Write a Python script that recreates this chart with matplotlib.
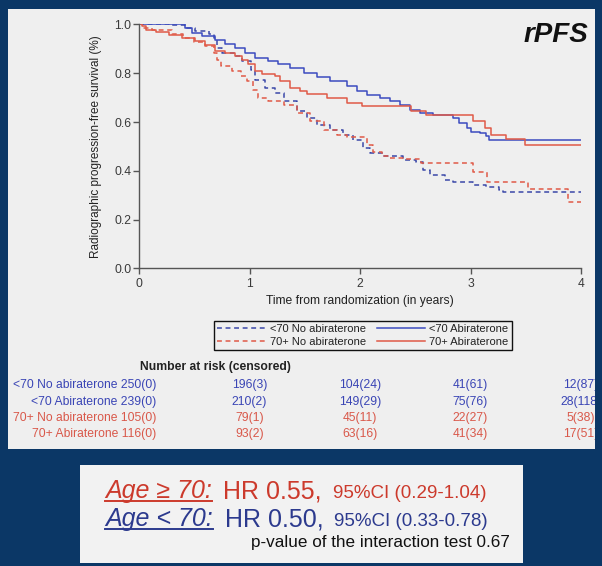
import matplotlib
matplotlib.use("Agg")
import matplotlib.pyplot as plt
from matplotlib.patches import Rectangle
from matplotlib.lines import Line2D
import matplotlib.transforms as mtransforms

plt.rcParams['font.family'] = ['Liberation Sans', 'DejaVu Sans']

# ---------------- data ----------------
series_labels = ["<70 No abiraterone", "70+ No abiraterone", "<70 Abiraterone", "70+ Abiraterone"]

t_u70_abi = [0, 0.42, 0.48, 0.57, 0.69, 0.78, 0.87, 0.96, 1.05, 1.17, 1.26, 1.37, 1.49, 1.61, 1.73,
             1.88, 1.97, 2.06, 2.18, 2.27, 2.36, 2.45, 2.54, 2.66, 2.84, 2.90, 2.97, 3.00, 3.09, 3.14,
             3.17, 4.0]
s_u70_abi = [1.0, 0.986, 0.966, 0.952, 0.938, 0.922, 0.904, 0.884, 0.863, 0.849, 0.836, 0.822, 0.80,
             0.785, 0.77, 0.747, 0.729, 0.712, 0.699, 0.685, 0.668, 0.651, 0.637, 0.627, 0.617, 0.596,
             0.575, 0.561, 0.556, 0.542, 0.525, 0.525]

t_70p_abi = [0, 0.03, 0.06, 0.15, 0.27, 0.39, 0.51, 0.60, 0.69, 0.78, 0.87, 0.93, 0.99, 1.05, 1.11,
             1.23, 1.28, 1.37, 1.46, 1.52, 1.70, 1.88, 2.02, 2.46, 2.60, 3.02, 3.13, 3.19, 3.32, 3.49,
             4.0]
s_70p_abi = [1.0, 0.993, 0.979, 0.968, 0.955, 0.945, 0.931, 0.914, 0.89, 0.884, 0.87, 0.856, 0.836,
             0.808, 0.798, 0.788, 0.767, 0.74, 0.726, 0.715, 0.699, 0.678, 0.664, 0.644, 0.630, 0.603,
             0.575, 0.545, 0.53, 0.507, 0.507]

t_u70_no = [0, 0.27, 0.42, 0.51, 0.63, 0.68, 0.71, 0.75, 0.87, 0.93, 1.01, 1.05, 1.14, 1.23, 1.31,
            1.43, 1.52, 1.61, 1.73, 1.85, 1.94, 2.03, 2.09, 2.21, 2.39, 2.51, 2.57, 2.63, 2.77, 2.84,
            3.02, 3.14, 3.26, 3.29, 4.0]
s_u70_no = [1.0, 0.996, 0.986, 0.973, 0.959, 0.945, 0.904, 0.884, 0.87, 0.849, 0.815, 0.774, 0.74,
            0.719, 0.685, 0.644, 0.617, 0.589, 0.568, 0.548, 0.527, 0.493, 0.473, 0.459, 0.445, 0.438,
            0.404, 0.383, 0.363, 0.353, 0.342, 0.335, 0.322, 0.312, 0.312]

t_70p_no = [0, 0.04, 0.12, 0.30, 0.40, 0.50, 0.60, 0.68, 0.71, 0.74, 0.84, 0.92, 0.98, 1.03, 1.08,
            1.17, 1.31, 1.43, 1.55, 1.67, 1.79, 1.88, 2.06, 2.12, 2.20, 2.27, 2.39, 2.55, 3.02, 3.15,
            3.52, 3.88, 4.0]
s_70p_no = [1.0, 0.986, 0.976, 0.962, 0.945, 0.93, 0.911, 0.884, 0.856, 0.829, 0.808, 0.788, 0.767,
            0.733, 0.699, 0.685, 0.671, 0.637, 0.603, 0.568, 0.548, 0.54, 0.507, 0.479, 0.459, 0.452,
            0.448, 0.431, 0.394, 0.352, 0.325, 0.271, 0.271]

x_ticks = [0, 1, 2, 3, 4]
y_ticks = [0.0, 0.2, 0.4, 0.6, 0.8, 1.0]

risk_rows = ["<70 No abiraterone 250(0)", "<70 Abiraterone 239(0)",
             "70+ No abiraterone 105(0)", "70+ Abiraterone 116(0)"]
risk_times = [1, 2, 3, 4]
risk_u70_no = ["196(3)", "104(24)", "41(61)", "12(87)"]
risk_u70_abi = ["210(2)", "149(29)", "75(76)", "28(118)"]
risk_70p_no = ["79(1)", "45(11)", "22(27)", "5(38)"]
risk_70p_abi = ["93(2)", "63(16)", "41(34)", "17(51)"]

hr_line1 = ["Age \u2265 70:", "HR 0.55,", "95%CI (0.29-1.04)"]
hr_line2 = ["Age < 70:", "HR 0.50,", "95%CI (0.33-0.78)"]
p_text = "p-value of the interaction test 0.67"

# ---------------- style ----------------
W, H = 602, 566
BG = '#0b3766'
PANEL = '#efefef'
BLUE = '#3b4bc0'
BLUE_D = '#3a47a8'
RED = '#e05a47'
TBLUE = '#3a45b5'
TRED = '#d9584a'
HRED = '#cc3a2c'
HBLUE = '#2c3a8e'

def fx(x):
    return x / W

def fy(y):
    return 1 - y / H

fig = plt.figure(figsize=(W / 100, H / 100), dpi=100)
fig.patch.set_facecolor(BG)

# main panel
fig.add_artist(Rectangle((fx(8), fy(449)), (595 - 8) / W, (449 - 9) / H,
                         transform=fig.transFigure, facecolor=PANEL, edgecolor='none', zorder=0))
# bottom box
fig.add_artist(Rectangle((fx(80), fy(563)), (523 - 80) / W, (563 - 465) / H,
                         transform=fig.transFigure, facecolor='#f2f2f2', edgecolor='none', zorder=0))

ax = fig.add_axes([fx(139), fy(268.3), 442 / W, (268.3 - 24.5) / H])
ax.patch.set_visible(False)

dash = (0, (3.2, 2.4))
l1, = ax.plot(t_u70_no, s_u70_no, drawstyle='steps-post', color=BLUE_D, lw=1.1, linestyle=dash)
l2, = ax.plot(t_70p_no, s_70p_no, drawstyle='steps-post', color=RED, lw=1.1, linestyle=dash)
l3, = ax.plot(t_u70_abi, s_u70_abi, drawstyle='steps-post', color=BLUE, lw=1.1)
l4, = ax.plot(t_70p_abi, s_70p_abi, drawstyle='steps-post', color=RED, lw=1.1)

ax.set_xlim(0, 4)
ax.set_ylim(0, 1)
ax.set_xticks(x_ticks)
ax.set_xticklabels([str(v) for v in x_ticks])
ax.set_yticks(y_ticks)
ax.set_yticklabels([f"{v:.1f}" for v in y_ticks])
for s in ['top', 'right']:
    ax.spines[s].set_visible(False)
for s in ['left', 'bottom']:
    ax.spines[s].set_color('#555555')
    ax.spines[s].set_linewidth(1.0)
ax.tick_params(axis='both', direction='out', length=4, width=1, color='#555555',
               labelsize=8.7, labelcolor='#3a3a3a')
ax.tick_params(axis='x', pad=3)
ax.tick_params(axis='y', pad=1.5)
ax.set_ylabel("Radiographic progression-free survival (%)", fontsize=8.5, color='#222222')
ax.yaxis.set_label_coords(-0.083, 0.5)
ax.set_xlabel("Time from randomization (in years)", fontsize=8.7, color='#222222')
ax.xaxis.set_label_coords(0.5, -0.11)

fig.text(fx(556), fy(35), "rPFS", fontsize=20, fontweight='bold', fontstyle='italic',
         color='#111111', ha='center', va='center')

# legend
leg = fig.legend([l1, l2, l3, l4], series_labels, ncol=2, loc='upper left',
                 bbox_to_anchor=(fx(214), fy(321)), bbox_transform=fig.transFigure,
                 fontsize=8, frameon=True, fancybox=False, edgecolor='#111111',
                 facecolor=PANEL, framealpha=1, handlelength=4.3, handletextpad=0.4,
                 columnspacing=1.0, labelspacing=0.25, borderpad=0.3, borderaxespad=0)
leg.get_frame().set_linewidth(1.0)
for txt in leg.get_texts():
    txt.set_color('#222222')

# number at risk table
fig.text(fx(215), fy(367), "Number at risk (censored)", fontsize=8.7, fontweight='bold',
         color='#222222', ha='center', va='center')
row_y = [385, 401.7, 418.3, 434.3]
row_colors = [TBLUE, TBLUE, TRED, TRED]
row_vals = [risk_u70_no, risk_u70_abi, risk_70p_no, risk_70p_abi]
blend = mtransforms.blended_transform_factory(ax.transData, fig.transFigure)
for lab, yy, col, vals in zip(risk_rows, row_y, row_colors, row_vals):
    fig.text(fx(156), fy(yy), lab, fontsize=8.7, color=col, ha='right', va='center')
    for t, v in zip(risk_times, vals):
        fig.text(t, fy(yy), v, fontsize=8.7, color=col, ha='center', va='center',
                 transform=blend)

# cover clipped portion at panel right edge
fig.add_artist(Rectangle((fx(595), fy(460)), (W - 595) / W, 460 / H,
                         transform=fig.transFigure, facecolor=BG, edgecolor='none', zorder=10))

# HR box text
fig.canvas.draw()
renderer = fig.canvas.get_renderer()

def hr_line(pieces, starts, base_y, color, under_y):
    t0 = fig.text(fx(starts[0]), fy(base_y), pieces[0], fontsize=18, fontstyle='italic',
                  color=color, ha='left', va='baseline')
    fig.text(fx(starts[1]), fy(base_y), pieces[1], fontsize=18, color=color,
             ha='left', va='baseline')
    fig.text(fx(starts[2]), fy(base_y), pieces[2], fontsize=13.5, color=color,
             ha='left', va='baseline')
    bb = t0.get_window_extent(renderer)
    fig.add_artist(Line2D([bb.x0 / W, bb.x1 / W], [fy(under_y), fy(under_y)],
                          transform=fig.transFigure, color=color, lw=1.4))

hr_line(hr_line1, [105, 223, 333], 498, HRED, 501)
hr_line(hr_line2, [105, 225, 334], 526, HBLUE, 529)
fig.text(fx(510), fy(547), p_text, fontsize=12.3, color='#111111', ha='right', va='baseline')

fig.savefig('out.png', dpi=100, facecolor=fig.get_facecolor())
